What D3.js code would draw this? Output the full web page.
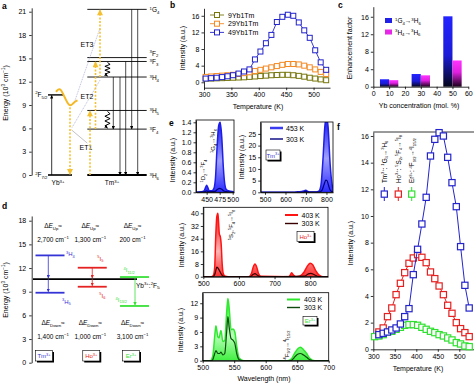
<!DOCTYPE html>
<html><head><meta charset="utf-8">
<script src="https://cdn.jsdelivr.net/npm/d3@7"></script>
<style>body{margin:0;background:#fff}svg{display:block}</style>
</head><body><svg id="c" width="474" height="384"></svg>
<script>
// ---------------- DATA ----------------
// panel a
const ybLevelNames = ["^{2}F_{7/2}", "^{2}F_{5/2}"];
const ybLevelE = [0, 10.3];
const tmLevelNames = ["^{1}G_{4}", "^{3}F_{2}", "^{3}F_{3}", "^{3}H_{4}", "^{3}H_{5}", "^{3}F_{4}", "^{3}H_{6}"];
const tmLevelE = [21.3, 15.1, 14.6, 12.6, 8.3, 5.9, 0];
const tmPumpFrom = [0, 5.9, 12.6];
const tmPumpTo = [8.3, 14.6, 21.3];
const tmRelaxFrom = [14.6, 8.3];
const tmRelaxTo = [12.6, 5.9];
const tmEmitFrom = [12.6, 12.6, 14.6, 21.3, 21.3];
const tmEmitTo = [5.9, 0, 0, 5.9, 0];
const etNames = ["ET1", "ET2", "ET3"];
const energyTicksA = [0, 3, 6, 9, 12, 15, 18, 21];
// panel b
const tempsB = [303,313,323,333,343,353,363,373,383,393,403,413,423,433,443,453,463,473,483,493,503,513,523];
const yb9 = [0.9,0.9,0.95,1.0,1.05,1.1,1.15,1.2,1.3,1.4,1.5,1.6,1.7,1.75,1.8,1.8,1.7,1.55,1.35,1.1,0.9,0.7,0.5];
const yb29 = [1.3,1.4,1.5,1.6,1.7,1.8,2.0,2.2,2.4,2.7,3.0,3.3,3.6,3.9,4.2,4.4,4.4,4.3,4.0,3.6,3.1,2.5,2.0];
const yb49 = [0.9,1.0,1.1,1.25,1.45,1.7,2.1,2.6,3.1,5.5,7.4,9.4,11.4,14.5,15.75,16.25,16.0,14.4,12.5,10.7,7.7,4.8,3.0];
const seriesNamesB = ["9Yb1Tm", "29Yb1Tm", "49Yb1Tm"];
const ticksBX = [300, 350, 400, 450, 500];
const ticksBY = [0, 4, 8, 12, 16];
// panel c
const ybConc = [10, 30, 50];
const enhG4 = [1.7, 2.9, 16.1];
const enhH4 = [1.5, 2.6, 6.0];
const ticksCX = [0, 10, 20, 30, 40, 50, 60];
const ticksCY = [0, 4, 8, 12, 16];
// panel d
const ions = ["Tm", "Ho", "Er"];
const ionUpperE = [13.6, 12.04, 10.86];
const ionLowerE = [8.87, 9.63, 7.19];
const ionUpperNames = ["^{3}H_{4}", "^{5}I_{5}", "^{4}I_{11/2}"];
const ionLowerNames = ["^{3}H_{5}", "^{5}I_{6}", "^{4}I_{13/2}"];
const dEUp = ["2,700", "1,300", "200"];
const dEDown = ["1,400", "1,000", "3,100"];
const ybExcitedE = 10.6;
const energyTicksD = [0, 3, 6, 9, 12, 15, 18];
// panel e : [wavelength nm, intensity]
const tmBlue453 = [[430,0],[440,0.01],[445,0.03],[448,0.1],[450,0.14],[452,0.1],[455,0.03],[460,0.03],[464,0.08],[467,0.3],[470,0.9],[473,1.33],[476,1.4],[479,1.1],[482,0.5],[485,0.15],[488,0.05],[492,0.03],[496,0.02],[502,0.01]];
const tmBlue303 = [[430,0],[446,0.01],[450,0.03],[454,0.01],[466,0.02],[471,0.06],[475,0.08],[479,0.06],[484,0.02],[490,0.01],[502,0]];
const tmNir453 = [[480,0],[640,0],[660,0.2],[680,0.3],[693,0.7],[700,0.9],[707,0.5],[720,0.1],[750,0.1],[763,0.5],[773,3],[783,14],[792,28],[800,32],[808,28],[818,12],[828,3],[835,1]];
const tmNir303 = [[480,0],[685,0],[695,0.3],[700,0.5],[708,0.1],[765,0.1],[778,0.8],[788,3.2],[797,5.2],[803,5.0],[810,3],[818,1],[828,0.2],[835,0]];
const ho403 = [[500,0],[522,0],[528,0.8],[532,6],[535,26],[538,38],[541,40],[543,34],[545,27],[548,25],[550,21],[553,8],[556,2],[560,0.5],[570,0],[628,0],[635,2],[640,6],[645,8],[650,6],[655,2],[662,0.3],[740,0],[744,1],[748,2.5],[753,1],[760,0],[772,0.5],[783,3],[793,7],[800,8.5],[807,7.5],[815,4],[825,1],[835,0],[850,0]];
const ho303 = [[500,0],[528,0],[533,2],[538,6],[541,5.5],[545,4],[551,1.5],[558,0],[632,0],[640,1.5],[645,2],[651,1],[660,0],[785,0.4],[795,1.8],[802,2.1],[810,1.4],[820,0.3],[830,0],[850,0]];
const er403 = [[500,0],[512,0],[516,1],[519,5],[521,7.3],[524,5],[526,4.8],[529,6.3],[532,4],[535,4.2],[538,10],[540,13],[542,11],[545,6.5],[548,6.6],[551,6],[554,3],[558,0.5],[565,0],[635,0],[641,0.4],[646,1.6],[651,2.5],[655,2.8],[660,2.3],[665,1.5],[670,0.5],[678,0],[700,0]];
const er303 = [[500,0],[515,0],[518,1],[521,2.1],[524,1.5],[527,1.5],[529,1.8],[532,1.2],[535,1.5],[538,6],[540,9.2],[542,7],[545,4.6],[548,4.3],[551,3.6],[554,1.5],[558,0.2],[565,0],[640,0],[645,0.6],[650,1.3],[655,1.5],[660,1.2],[665,0.7],[670,0.2],[678,0],[700,0]];
const ticksTmVisY = [0,0.2,0.4,0.6,0.8,1.0,1.2,1.4];
const ticksTmVisX = [450,475,500];
const ticksTmNirY = [0,5,10,15,20,25];
const ticksTmNirX = [500,600,700,800];
const ticksHoY = [0,8,16,24,32,40];
const ticksHoX = [500,600,700,800];
const ticksErY = [0,3,6,9,12];
const ticksErX = [500,550,600,650,700];
// panel f
const tempsF = [313,323,333,343,353,363,373,383,393,403,413,423,433,443,453,463,473,483,493,503,513,523];
const tmF = [1.1,1.2,1.3,1.45,1.6,1.9,2.45,3.05,5.6,7.5,9.4,11.4,14.5,15.75,16.25,16.0,14.4,12.5,10.7,7.7,4.8,3.1];
const hoF = [1.3,1.6,2.45,3.1,4.1,4.95,5.75,6.45,6.85,7.1,6.9,6.5,5.8,5.3,4.75,4.1,3.3,2.7,2.0,1.55,1.25,0.95];
const tempsFEr = [303,313,323,333,343,353,363,373,383,393,403,413,423,433,443,453,463,473,483,493,503,513,523];
const erF = [0.95,1.0,1.1,1.3,1.35,1.5,1.65,1.8,1.85,1.85,1.8,1.65,1.5,1.35,1.25,1.1,1.0,0.85,0.7,0.5,0.4,0.25,0.2];
const legendF = ["Tm^{3+}: ^{1}G_{4}\u2192^{3}H_{6}", "Ho^{3+}: ^{5}S_{2},^{5}F_{4}\u2192^{5}I_{8}", "Er^{3+}: ^{4}F_{9/2}\u2192^{4}I_{15/2}"];
const ticksFX = [300,350,400,450,500];
const ticksFY = [0,2,4,6,8,10,12,14,16];

// ---------------- HELPERS ----------------
const FONT = '"Liberation Sans", Arial, Helvetica, sans-serif';
const svg = d3.select("#c").attr("font-family", FONT);
const defs = svg.append("defs");

function rich(g, str, o) {
  const s = o.size || 7;
  const t = g.append("text").attr("x", o.x).attr("y", o.y).attr("font-size", s)
    .attr("fill", o.fill || "#000").attr("text-anchor", o.anchor || "start");
  if (o.rotate) t.attr("transform", `rotate(${o.rotate},${o.x},${o.y})`);
  if (o.weight) t.attr("font-weight", o.weight);
  const parts = str.split(/(\^\{[^}]*\}|_\{[^}]*\}|~\{[^}]*\})/).filter(p => p.length);
  let off = 0;
  parts.forEach(p => {
    let shift = 0, txt = p, fs = s, it = false;
    if (p.startsWith("^{")) { shift = -0.38 * s; txt = p.slice(2, -1); fs = s * 0.66; }
    else if (p.startsWith("_{")) { shift = 0.25 * s; txt = p.slice(2, -1); fs = s * 0.66; }
    else if (p.startsWith("~{")) { txt = p.slice(2, -1); it = true; }
    const ts = t.append("tspan").attr("font-size", fs).attr("dy", shift - off).text(txt);
    if (it) ts.attr("font-style", "italic");
    off = shift;
  });
  return t;
}
function styleAxis(g) {
  g.attr("font-size", 7).attr("font-family", FONT);
  g.selectAll("path,line").attr("stroke", "#000").attr("stroke-width", 0.8);
  g.selectAll("text").attr("fill", "#000");
  return g;
}
function mk(id, color, w, h) {
  defs.append("marker").attr("id", id).attr("viewBox", "0 0 10 10").attr("refX", 9).attr("refY", 5)
    .attr("markerWidth", w).attr("markerHeight", h).attr("markerUnits", "userSpaceOnUse").attr("orient", "auto")
    .append("path").attr("d", "M0,0L10,5L0,10Z").attr("fill", color);
}
mk("ahY", "#f4c032", 7, 6);
mk("ahK", "#000", 3.5, 3.5);
mk("ahB", "#3434d6", 3.5, 3.5);
mk("ahR", "#e52222", 3.5, 3.5);
mk("ahG", "#37e037", 3.5, 3.5);
function grad(id, stops) {
  const lg = defs.append("linearGradient").attr("id", id).attr("x1", 0).attr("y1", 0).attr("x2", 0).attr("y2", 1);
  stops.forEach(([o, c]) => lg.append("stop").attr("offset", o).attr("stop-color", c));
}
grad("gBlueBar", [[0, "#2323ff"], [0.55, "#1c1cd8"], [1, "#05051a"]]);
grad("gMagBar", [[0, "#ff33ff"], [0.45, "#e020e0"], [1, "#1a001a"]]);
grad("gTm", [[0, "#1515f0"], [0.55, "#a0a0ff"], [1, "#2a2aff"]]);
grad("gHo", [[0, "#ff1010"], [0.6, "#ffb4b4"], [1, "#ff3030"]]);
grad("gEr", [[0, "#30f030"], [0.6, "#b8ffb8"], [1, "#40f040"]]);
function letter(t, x, y) {
  svg.append("text").attr("x", x).attr("y", y).attr("font-size", 8.5).attr("font-weight", "bold").text(t);
}

// ---------------- PANEL a ----------------
{
  const g = svg.append("g");
  const yA = d3.scaleLinear([0, 21.5], [175, 175 - 21.5 * 7.776]);
  const xA = d3.scaleLinear([0, 100], [50, 150]); // schematic columns
  styleAxis(g.append("g").attr("transform", "translate(31.7,0)")
    .call(d3.axisLeft(yA).tickValues(energyTicksA).tickSize(2.5).tickPadding(3).tickSizeOuter(0)));
  rich(g, "Energy (10^{3} cm^{\u22121})", { x: 8, y: 93, rotate: -90, anchor: "middle", size: 7 });
  // Yb levels
  ybLevelE.forEach((e, i) => {
    g.append("line").attr("x1", xA(-2)).attr("x2", xA(i === 0 ? 22 : 13)).attr("y1", yA(e)).attr("y2", yA(e))
      .attr("stroke", "#000").attr("stroke-width", i === 0 ? 1.6 : 1.4);
    rich(g, ybLevelNames[i], { x: xA(-2.5), y: yA(e) + 2, anchor: "end", size: 6.5 });
  });
  rich(g, "Yb^{3+}", { x: xA(8), y: 185, anchor: "middle", size: 6.5 });
  rich(g, "Tm^{3+}", { x: xA(62), y: 185, anchor: "middle", size: 6.5 });
  // Tm levels
  tmLevelE.forEach((e, i) => {
    g.append("line").attr("x1", xA(37.3)).attr("x2", xA(96.7)).attr("y1", yA(e)).attr("y2", yA(e))
      .attr("stroke", "#000").attr("stroke-width", e === 0 ? 1.8 : 0.9);
    const dy = tmLevelNames[i] === "^{3}F_{2}" ? -2 : 3;
    rich(g, tmLevelNames[i], { x: xA(99.5), y: yA(e) + dy, size: 6.5 });
  });
  // Yb absorption arrow
  g.append("line").attr("x1", xA(1.7)).attr("x2", xA(1.7)).attr("y1", yA(0)).attr("y2", yA(ybLevelE[1]) + 0.5)
    .attr("stroke", "#000").attr("stroke-width", 0.8).attr("marker-end", "url(#ahK)");
  // Yb wavy & down arrow
  const wave = [[6, 10.7], [10, 11.3], [14, 10.2], [19.5, 8.6], [24, 9.4], [27.5, 9.6]];
  g.append("path").attr("d", d3.line().x(d => xA(d[0])).y(d => yA(d[1])).curve(d3.curveBasis)(wave))
    .attr("fill", "none").attr("stroke", "#f4b824").attr("stroke-width", 2);
  g.append("line").attr("x1", xA(20)).attr("x2", xA(20)).attr("y1", yA(8.7)).attr("y2", yA(0) - 0.5)
    .attr("stroke", "#f4c032").attr("stroke-width", 1.6).attr("stroke-dasharray", "2,1.6").attr("marker-end", "url(#ahY)");
  // ET lines
  const etFrom = [[21.5, 5.8], [22, 6.1], [25, 9.6]];
  const etTo = [[37.3, 4.1], [50, 12.2], [50, 18.9]];
  etFrom.forEach((f, i) => {
    g.append("line").attr("x1", xA(f[0])).attr("y1", yA(f[1])).attr("x2", xA(etTo[i][0])).attr("y2", yA(etTo[i][1]))
      .attr("stroke", i === 0 ? "#999" : "#8e96c8").attr("stroke-width", 0.6).attr("stroke-dasharray", i === 0 ? null : "1,0.8");
  });
  const etLab = [[36, 3.2], [37, 9.8], [37, 16.5]];
  etNames.forEach((n, i) => g.append("text").attr("x", xA(etLab[i][0])).attr("y", yA(etLab[i][1])).attr("font-size", 7)
    .attr("text-anchor", "middle").text(n));
  // Tm pump arrows (yellow dashed)
  const pumpCols = [40, 45.5, 50];
  tmPumpFrom.forEach((f, i) => {
    g.append("line").attr("x1", xA(pumpCols[i])).attr("x2", xA(pumpCols[i])).attr("y1", yA(f)).attr("y2", yA(tmPumpTo[i]) + 0.5)
      .attr("stroke", "#f4c032").attr("stroke-width", 1.6).attr("stroke-dasharray", "2,1.6").attr("marker-end", "url(#ahY)");
  });
  // relaxation squiggles
  tmRelaxFrom.forEach((f, i) => {
    const y1 = yA(f) + 1, y2 = yA(tmRelaxTo[i]) - 1, x = xA(57.5), n = 7;
    const pts = d3.range(n + 1).map(k => [x + (k === 0 || k === n ? 0 : (k % 2 ? 2.6 : -2.6)), y1 + (y2 - y1) * k / n]);
    g.append("path").attr("d", d3.line()(pts)).attr("fill", "none").attr("stroke", "#000").attr("stroke-width", 1)
      .attr("marker-end", "url(#ahK)");
  });
  // emission arrows
  const emitCols = [63.3, 70, 75.7, 81.7, 87.7];
  tmEmitFrom.forEach((f, i) => {
    g.append("line").attr("x1", xA(emitCols[i])).attr("x2", xA(emitCols[i])).attr("y1", yA(f)).attr("y2", yA(tmEmitTo[i]))
      .attr("stroke", "#000").attr("stroke-width", 0.7).attr("marker-end", "url(#ahK)");
  });
}
letter("a", 2, 9);

// ---------------- PANEL b ----------------
{
  const g = svg.append("g");
  const xB = d3.scaleLinear([300, 530], [204, 330]);
  const yB = d3.scaleLinear([-1.3, 17.8], [87.7, 8.3]);
  styleAxis(g.append("g").attr("transform", `translate(0,${yB.range()[0]})`)
    .call(d3.axisBottom(xB).tickValues(ticksBX).tickSize(2.5).tickPadding(2).tickSizeOuter(0)));
  styleAxis(g.append("g").attr("transform", `translate(${xB.range()[0]},0)`)
    .call(d3.axisLeft(yB).tickValues(ticksBY).tickSize(2.5).tickPadding(2).tickSizeOuter(0)));
  g.append("text").attr("x", 258).attr("y", 109).attr("font-size", 7).attr("text-anchor", "middle").text("Temperature (K)");
  g.append("text").attr("transform", "translate(185,48) rotate(-90)").attr("font-size", 7).attr("text-anchor", "middle").text("Intensity (a.u.)");
  const cols = ["#77770e", "#f48a24", "#2222cc"];
  [yb9, yb29, yb49].forEach((vals, si) => {
    const pts = tempsB.map((t, i) => [t, vals[i]]);
    g.append("path").attr("d", d3.line().x(d => xB(d[0])).y(d => yB(d[1]))(pts)).attr("fill", "none")
      .attr("stroke", cols[si]).attr("stroke-width", 0.9);
    g.selectAll(null).data(pts).join("rect").attr("x", d => xB(d[0]) - 2.5).attr("y", d => yB(d[1]) - 2.5)
      .attr("width", 5).attr("height", 5).attr("fill", "#fff").attr("stroke", cols[si]).attr("stroke-width", 1);
    const ly = 15 + si * 8.7;
    g.append("line").attr("x1", 210).attr("x2", 224).attr("y1", ly).attr("y2", ly).attr("stroke", cols[si]).attr("stroke-width", 0.9);
    g.append("rect").attr("x", 214.5).attr("y", ly - 2.5).attr("width", 5).attr("height", 5).attr("fill", "#fff")
      .attr("stroke", cols[si]).attr("stroke-width", 1);
    g.append("text").attr("x", 228).attr("y", ly + 2.5).attr("font-size", 7).text(seriesNamesB[si]);
  });
}
letter("b", 170, 8);

// ---------------- PANEL c ----------------
{
  const g = svg.append("g");
  const xC = d3.scaleLinear([0, 60], [373.3, 468.3]);
  const yC = d3.scaleLinear([0, 18.3], [86.7, 6.7]);
  const w = 5.8;
  ybConc.forEach((c, i) => {
    g.append("rect").attr("x", xC(c - w)).attr("width", xC(c) - xC(c - w)).attr("y", yC(enhG4[i])).attr("height", yC(0) - yC(enhG4[i]))
      .attr("fill", "url(#gBlueBar)");
    g.append("rect").attr("x", xC(c)).attr("width", xC(c + w) - xC(c)).attr("y", yC(enhH4[i])).attr("height", yC(0) - yC(enhH4[i]))
      .attr("fill", "url(#gMagBar)");
  });
  styleAxis(g.append("g").attr("transform", `translate(0,${yC(0)})`)
    .call(d3.axisBottom(xC).tickValues(ticksCX).tickSize(2.5).tickPadding(2).tickSizeOuter(0)));
  styleAxis(g.append("g").attr("transform", `translate(${xC(0)},0)`)
    .call(d3.axisLeft(yC).tickValues(ticksCY).tickSize(2.5).tickPadding(2).tickSizeOuter(0)));
  g.append("text").attr("x", 419).attr("y", 108).attr("font-size", 7).attr("text-anchor", "middle").text("Yb concentration (mol. %)");
  g.append("text").attr("transform", "translate(352,48) rotate(-90)").attr("font-size", 7).attr("text-anchor", "middle").text("Enhancement factor");
  g.append("rect").attr("x", 385).attr("y", 18).attr("width", 7).attr("height", 5).attr("fill", "#2020e8");
  rich(g, "^{1}G_{4}\u2192^{3}H_{6}", { x: 395, y: 23, size: 6.5 });
  g.append("rect").attr("x", 385).attr("y", 29.5).attr("width", 7).attr("height", 5).attr("fill", "#e628e6");
  rich(g, "^{3}H_{4}\u2192^{3}H_{6}", { x: 395, y: 34.5, size: 6.5 });
}
letter("c", 338, 8);

// ---------------- PANEL d ----------------
{
  defs.append("clipPath").attr("id", "clipD").append("rect").attr("x", 0).attr("y", 200).attr("width", 160).attr("height", 184);
  const g = svg.append("g").attr("clip-path", "url(#clipD)");
  const yD = d3.scaleLinear([0, 18.6], [362.7, 362.7 - 18.6 * 7.889]);
  const xD = d3.scalePoint(ions, [50, 134.5]);
  styleAxis(g.append("g").attr("transform", "translate(31.7,0)")
    .call(d3.axisLeft(yD).tickValues(energyTicksD).tickSize(2.5).tickPadding(3).tickSizeOuter(0)));
  rich(g, "Energy (10^{3} cm^{\u22121})", { x: 8, y: 290, rotate: -90, anchor: "middle", size: 7 });
  const cols = ["#3434d6", "#e52222", "#37e037"];
  const ah = ["ahB", "ahR", "ahG"];
  g.append("line").attr("x1", 33).attr("x2", 137).attr("y1", yD(ybExcitedE)).attr("y2", yD(ybExcitedE)).attr("stroke", "#000").attr("stroke-width", 1.6);
  rich(g, "Yb^{3+}:^{2}F_{5/2}", { x: 136, y: yD(ybExcitedE) + 8.5, size: 6.5 });
  const upLab = [[16, -1], [5, -9], [-11, -7]];
  const loLab = [[12, 9], [7, 9], [-19, -6]];
  const arrowDx = [-1.7, 0, 0.5];
  ions.forEach((ion, i) => {
    const cx = xD(ion);
    [ionUpperE[i], ionLowerE[i]].forEach(e => g.append("line").attr("x1", cx - 14.5).attr("x2", cx + 14.5)
      .attr("y1", yD(e)).attr("y2", yD(e)).attr("stroke", cols[i]).attr("stroke-width", 1.8));
    const ax = cx + arrowDx[i];
    if (ionUpperE[i] - ybExcitedE > 0.5) {
      g.append("line").attr("x1", ax).attr("x2", ax).attr("y1", yD(ionUpperE[i])).attr("y2", yD(ybExcitedE) - 1)
        .attr("stroke", cols[i]).attr("stroke-width", 0.8).attr("marker-end", `url(#${ah[i]})`);
      g.append("line").attr("x1", ax).attr("x2", ax).attr("y1", yD(ybExcitedE)).attr("y2", yD(ionLowerE[i]) - 1)
        .attr("stroke", cols[i]).attr("stroke-width", 0.8).attr("marker-end", `url(#${ah[i]})`);
    } else {
      g.append("line").attr("x1", ax).attr("x2", ax).attr("y1", yD(ionUpperE[i])).attr("y2", yD(ionLowerE[i]) - 1)
        .attr("stroke", cols[i]).attr("stroke-width", 0.8).attr("marker-end", `url(#${ah[i]})`);
    }
    rich(g, ionUpperNames[i], { x: cx + upLab[i][0], y: yD(ionUpperE[i]) + upLab[i][1] + 2, size: 6, fill: cols[i] });
    rich(g, ionLowerNames[i], { x: cx + loLab[i][0], y: yD(ionLowerE[i]) + loLab[i][1] + 2, size: 6, fill: cols[i] });
    const tx = cx + (i === 0 ? 3 : i === 1 ? -2 : -2);
    rich(g, "\u0394~{E}_{Up}\u2248", { x: tx, y: 228, anchor: "middle", size: 6.5 });
    rich(g, dEUp[i] + " cm^{\u22121}", { x: tx, y: 241.5, anchor: "middle", size: 6.5 });
    rich(g, "\u0394~{E}_{Down}\u2248", { x: tx, y: 325, anchor: "middle", size: 6.5 });
    rich(g, dEDown[i] + " cm^{\u22121}", { x: tx, y: 338.5, anchor: "middle", size: 6.5 });
    const bx = cx - (i === 0 ? 5.5 : i === 1 ? 0.5 : 3);
    g.append("rect").attr("x", bx - 7.5).attr("y", 352).attr("width", 17).attr("height", 10.5).attr("fill", "#000");
    g.append("rect").attr("x", bx - 9).attr("y", 350.5).attr("width", 17).attr("height", 10.5).attr("fill", "#fff").attr("stroke", "#000").attr("stroke-width", 0.6);
    rich(g, ion + "^{3+}", { x: bx - 0.5, y: 358.3, anchor: "middle", size: 6, fill: cols[i] });
  });
}
letter("d", 2, 209);

// ---------------- PANEL e ----------------
function spectrum(box, xDom, yDom, ticksX, ticksY, hot, cold, hotCol, coldCol, gradId, fmt, clipId) {
  const g = svg.append("g");
  const x = d3.scaleLinear(xDom, [box.l, box.r]);
  const y = d3.scaleLinear(yDom, [box.b, box.t]);
  defs.append("clipPath").attr("id", clipId).append("rect").attr("x", box.l).attr("y", box.t).attr("width", box.r - box.l).attr("height", box.b - box.t);
  const pg = g.append("g").attr("clip-path", `url(#${clipId})`);
  pg.append("path").attr("d", d3.area().x(d => x(d[0])).y0(y(0)).y1(d => y(d[1])).curve(d3.curveMonotoneX)(hot))
    .attr("fill", `url(#${gradId})`);
  pg.append("path").attr("d", d3.line().x(d => x(d[0])).y(d => y(d[1])).curve(d3.curveMonotoneX)(hot))
    .attr("fill", "none").attr("stroke", hotCol).attr("stroke-width", 1.5);
  pg.append("path").attr("d", d3.line().x(d => x(d[0])).y(d => y(d[1])).curve(d3.curveMonotoneX)(cold))
    .attr("fill", "none").attr("stroke", coldCol).attr("stroke-width", 1.2);
  g.append("rect").attr("x", box.l).attr("y", box.t).attr("width", box.r - box.l).attr("height", box.b - box.t)
    .attr("fill", "none").attr("stroke", "#000").attr("stroke-width", 0.8);
  styleAxis(g.append("g").attr("transform", `translate(0,${box.b})`)
    .call(d3.axisBottom(x).tickValues(ticksX).tickSize(2.5).tickPadding(2).tickSizeOuter(0)));
  const ay = d3.axisLeft(y).tickValues(ticksY).tickSize(2.5).tickPadding(2).tickSizeOuter(0);
  if (fmt) ay.tickFormat(fmt);
  styleAxis(g.append("g").attr("transform", `translate(${box.l},0)`).call(ay));
  return g;
}
{
  const gTL = spectrum({ l: 196, t: 120, r: 234, b: 192.3 }, [429.5, 502.5], [0, 1.446], ticksTmVisX, ticksTmVisY,
    tmBlue453, tmBlue303, "#1e1ee6", "#000080", "gTm", d3.format(".1f"), "cTL");
  gTL.append("text").attr("transform", "translate(175,160) rotate(-90)").attr("font-size", 7).attr("text-anchor", "middle").text("Intensity (a.u.)");
  rich(gTL, "^{1}D_{2}\u2192^{3}F_{4}", { x: 205, y: 171, rotate: -90, anchor: "middle", size: 6 });
  rich(gTL, "^{1}G_{4}\u2192^{3}H_{6}", { x: 215, y: 141, rotate: -90, anchor: "middle", size: 6 });

  const gTR = spectrum({ l: 260.7, t: 122, r: 333, b: 192.3 }, [479, 832], [0, 30.1], ticksTmNirX, ticksTmNirY,
    tmNir453, tmNir303, "#1e1ee6", "#000080", "gTm", null, "cTR");
  gTR.append("text").attr("transform", "translate(244,157) rotate(-90)").attr("font-size", 7).attr("text-anchor", "middle").text("Intensity (a.u.)");
  gTR.append("line").attr("x1", 270).attr("x2", 283).attr("y1", 128).attr("y2", 128).attr("stroke", "#3a3af0").attr("stroke-width", 2.5);
  gTR.append("text").attr("x", 286).attr("y", 130.5).attr("font-size", 7).text("453 K");
  gTR.append("line").attr("x1", 270).attr("x2", 283).attr("y1", 139).attr("y2", 139).attr("stroke", "#000080").attr("stroke-width", 1.4);
  gTR.append("text").attr("x", 286).attr("y", 141.5).attr("font-size", 7).text("303 K");
  gTR.append("rect").attr("x", 267.5).attr("y", 151.5).attr("width", 14).attr("height", 10).attr("fill", "#000");
  gTR.append("rect").attr("x", 266).attr("y", 150).attr("width", 14).attr("height", 10).attr("fill", "#fff").attr("stroke", "#000").attr("stroke-width", 0.6);
  rich(gTR, "Tm^{3+}", { x: 273, y: 157.5, anchor: "middle", size: 6, fill: "#3434d6" });

  const gHo = spectrum({ l: 203.3, t: 207.3, r: 328, b: 276.7 }, [500, 850], [0, 43.8], ticksHoX, ticksHoY,
    ho403, ho303, "#ff1414", "#3a0000", "gHo", null, "cHo");
  gHo.append("text").attr("transform", "translate(184,245) rotate(-90)").attr("font-size", 7).attr("text-anchor", "middle").text("Intensity (a.u.)");
  gHo.append("line").attr("x1", 285).attr("x2", 298).attr("y1", 215).attr("y2", 215).attr("stroke", "#ff1414").attr("stroke-width", 2);
  gHo.append("text").attr("x", 301.5).attr("y", 217.5).attr("font-size", 7).text("403 K");
  gHo.append("line").attr("x1", 285).attr("x2", 298).attr("y1", 223.5).attr("y2", 223.5).attr("stroke", "#3a0000").attr("stroke-width", 1.4);
  gHo.append("text").attr("x", 301.5).attr("y", 226).attr("font-size", 7).text("303 K");
  gHo.append("rect").attr("x", 298.5).attr("y", 233).attr("width", 17).attr("height", 10).attr("fill", "#000");
  gHo.append("rect").attr("x", 297).attr("y", 231.5).attr("width", 17).attr("height", 10).attr("fill", "#fff").attr("stroke", "#000").attr("stroke-width", 0.6);
  rich(gHo, "Ho^{3+}", { x: 305.5, y: 239, anchor: "middle", size: 6, fill: "#e52222" });
  rich(gHo, "^{5}S_{2},^{5}F_{4}\u2192^{5}I_{8}", { x: 233, y: 225, rotate: -90, anchor: "middle", size: 6 });

  const gEr = spectrum({ l: 202.7, t: 292.7, r: 328.7, b: 360.7 }, [500, 700], [0, 14.2], ticksErX, ticksErY,
    er403, er303, "#2ee82e", "#0f4a0f", "gEr", null, "cEr");
  gEr.append("text").attr("transform", "translate(183,330) rotate(-90)").attr("font-size", 7).attr("text-anchor", "middle").text("Intensity (a.u.)");
  gEr.append("text").attr("x", 264).attr("y", 381).attr("font-size", 7).attr("text-anchor", "middle").text("Wavelength (nm)");
  gEr.append("line").attr("x1", 287).attr("x2", 300).attr("y1", 299.5).attr("y2", 299.5).attr("stroke", "#2ee82e").attr("stroke-width", 2);
  gEr.append("text").attr("x", 304).attr("y", 302).attr("font-size", 7).text("403 K");
  gEr.append("line").attr("x1", 287).attr("x2", 300).attr("y1", 307.5).attr("y2", 307.5).attr("stroke", "#0f4a0f").attr("stroke-width", 1.4);
  gEr.append("text").attr("x", 304).attr("y", 310).attr("font-size", 7).text("303 K");
  gEr.append("rect").attr("x", 304.5).attr("y", 318).attr("width", 14).attr("height", 8.5).attr("fill", "#000");
  gEr.append("rect").attr("x", 303).attr("y", 316.5).attr("width", 14).attr("height", 8.5).attr("fill", "#fff").attr("stroke", "#000").attr("stroke-width", 0.6);
  rich(gEr, "Er^{3+}", { x: 310, y: 323, anchor: "middle", size: 6, fill: "#37e037" });
  rich(gEr, "^{4}F_{9/2}\u2192^{4}I_{15/2}", { x: 288.5, y: 345, rotate: -90, anchor: "middle", size: 6 });
}
letter("e", 169, 126);

// ---------------- PANEL f ----------------
{
  const g = svg.append("g");
  const xF = d3.scaleLinear([300, 540], [373.3, 476.5]);
  const yF = d3.scaleLinear([0, 16.3], [349.3, 132]);
  g.append("line").attr("x1", 373.3).attr("x2", 474).attr("y1", 132).attr("y2", 132).attr("stroke", "#000").attr("stroke-width", 0.8);
  styleAxis(g.append("g").attr("transform", `translate(0,${yF(0)})`)
    .call(d3.axisBottom(xF).tickValues(ticksFX).tickSize(2.5).tickPadding(2).tickSizeOuter(0)));
  styleAxis(g.append("g").attr("transform", `translate(${xF(300)},0)`)
    .call(d3.axisLeft(yF).tickValues(ticksFY).tickSize(2.5).tickPadding(2).tickSizeOuter(0)));
  g.append("text").attr("x", 418).attr("y", 371).attr("font-size", 7).attr("text-anchor", "middle").text("Temperature (K)");
  g.append("text").attr("transform", "translate(353,243) rotate(-90)").attr("font-size", 7).attr("text-anchor", "middle").text("Intensity (a.u.)");
  const cols = ["#2424cc", "#e52020", "#30e030"];
  const sets = [[tempsF, tmF], [tempsF, hoF], [tempsFEr, erF]];
  [2, 1, 0].forEach(si => {
    const [ts, vs] = sets[si];
    const pts = ts.map((t, i) => [t, vs[i]]);
    g.append("path").attr("d", d3.line().x(d => xF(d[0])).y(d => yF(d[1]))(pts)).attr("fill", "none")
      .attr("stroke", cols[si]).attr("stroke-width", 1);
    g.selectAll(null).data(pts).join("rect").attr("x", d => xF(d[0]) - 3.1).attr("y", d => yF(d[1]) - 3.1)
      .attr("width", 6.2).attr("height", 6.2).attr("fill", "#fff").attr("stroke", cols[si]).attr("stroke-width", 1.2);
  });
  [384.3, 398.3, 411.7].forEach((lx, si) => {
    g.append("line").attr("x1", lx).attr("x2", lx).attr("y1", 187).attr("y2", 201).attr("stroke", cols[si]).attr("stroke-width", 1);
    g.append("rect").attr("x", lx - 3.1).attr("y", 191).attr("width", 6.2).attr("height", 6.2).attr("fill", "#fff")
      .attr("stroke", cols[si]).attr("stroke-width", 1.2);
    rich(g, legendF[si], { x: lx + 2.3, y: 183, rotate: -90, size: 6.3 });
  });
}
letter("f", 337, 130);
</script></body></html>
